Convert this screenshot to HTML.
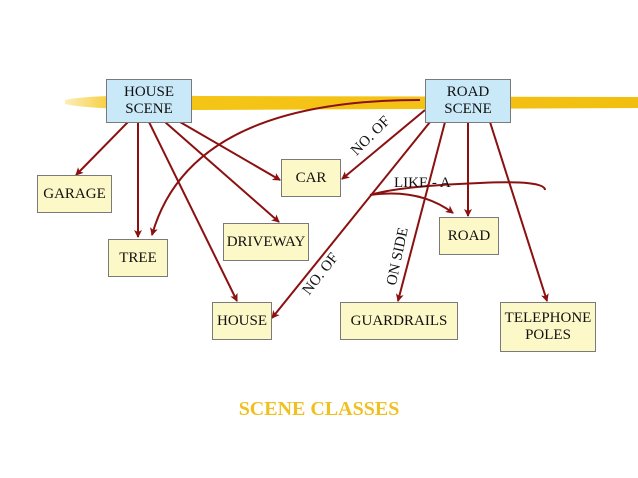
<!DOCTYPE html>
<html><head><style>
body{margin:0;width:638px;height:478px;background:#fff;overflow:hidden;position:relative;font-family:"Liberation Serif",serif;}
.b{position:absolute;background:#fdf8c8;border:1px solid #7a7a7a;box-sizing:border-box;font-size:15px;color:#111;text-align:center;line-height:17px;display:flex;align-items:center;justify-content:center;}
.s{background:#c9e8f8;}
.l{position:absolute;font-size:15px;color:#111;white-space:nowrap;transform-origin:center;}
</style></head><body>
<svg width="638" height="478" style="position:absolute;left:0;top:0">
<defs><marker id="a" markerWidth="8" markerHeight="8" refX="7" refY="4" orient="auto" markerUnits="userSpaceOnUse"><path d="M0,0 L8,4 L0,8 L2,4z" fill="#8b1010"/></marker>
<linearGradient id="g" x1="0" x2="1"><stop offset="0" stop-color="#f5c518" stop-opacity="0.3"/><stop offset="0.1" stop-color="#f5c518"/><stop offset="1" stop-color="#f2bf10"/></linearGradient></defs>
<path d="M65,100 Q90,94 200,96 L638,97 L638,108 L200,110 Q90,110 65,104z" fill="url(#g)"/>
<g stroke="#8b1010" stroke-width="2" fill="none" marker-end="url(#a)">
<line x1="128" y1="122" x2="76" y2="175"/>
<line x1="138" y1="122" x2="138" y2="237"/>
<line x1="149" y1="122" x2="237" y2="301"/>
<line x1="165" y1="122" x2="279" y2="222"/>
<line x1="180" y1="122" x2="280" y2="180"/>
<path d="M420,100 Q190,100 152,235"/>
<line x1="425" y1="110" x2="342" y2="179"/>
<line x1="430" y1="122" x2="272" y2="318"/>
<line x1="445" y1="122" x2="398" y2="301"/>
<line x1="468" y1="122" x2="468" y2="216"/>
<line x1="490" y1="122" x2="547" y2="301"/>
<path d="M545,190 Q545,180 480,183 Q400,186 370,195 Q420,188 453,213"/>
</g></svg>
<div class="b s" style="left:106px;top:79px;width:86px;height:44px">HOUSE<br>SCENE</div>
<div class="b s" style="left:425px;top:79px;width:86px;height:44px">ROAD<br>SCENE</div>
<div class="b" style="left:37px;top:175px;width:75px;height:38px">GARAGE</div>
<div class="b" style="left:108px;top:239px;width:60px;height:38px">TREE</div>
<div class="b" style="left:281px;top:159px;width:60px;height:38px">CAR</div>
<div class="b" style="left:223px;top:223px;width:86px;height:38px">DRIVEWAY</div>
<div class="b" style="left:212px;top:302px;width:60px;height:38px">HOUSE</div>
<div class="b" style="left:439px;top:217px;width:60px;height:38px">ROAD</div>
<div class="b" style="left:340px;top:302px;width:118px;height:38px">GUARDRAILS</div>
<div class="b" style="left:500px;top:302px;width:96px;height:50px">TELEPHONE<br>POLES</div>
<div class="l" style="left:347px;top:128px;transform:rotate(-45deg)">NO. OF</div>
<div class="l" style="left:297px;top:266px;transform:rotate(-52deg)">NO. OF</div>
<div class="l" style="left:369px;top:248px;transform:rotate(-78deg)">ON SIDE</div>
<div class="l" style="left:394px;top:175px">LIKE - A</div>
<div style="position:absolute;left:0;width:638px;top:398px;text-align:center;font-size:20px;font-weight:bold;color:#f0c020">SCENE CLASSES</div>
</body></html>
